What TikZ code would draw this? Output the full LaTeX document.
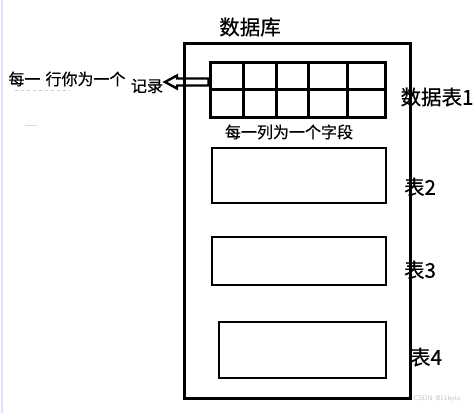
\documentclass[tikz,border=0pt]{standalone}
\usepackage{fontspec}
\newfontfamily\cjk[FakeBold=0.5]{Noto Sans CJK SC}
\usetikzlibrary{arrows.meta, positioning}

\begin{document}
\begin{tikzpicture}[
    x=1pt, y=-1pt,
    box/.style={rectangle, draw=black, line width=3pt, inner sep=0pt},
    tbl/.style={rectangle, draw=black, line width=2.6pt, inner sep=0pt},
    lbl/.style={font=\cjk\fontsize{20.5}{20.5}\selectfont, inner sep=0pt},
    note/.style={font=\cjk\fontsize{16}{16}\selectfont, inner sep=0pt},
    hollow/.style={draw=black, line width=2.4pt, line join=miter}
]
\useasboundingbox (0,0) rectangle (474,413);
\fill[white] (0,0) rectangle (474,413);
\draw[blue!12, line width=1.5pt] (2,0) -- (2,413);

% Database
\node[box, minimum width=226pt, minimum height=355pt] (db) at (297,220.5) {};
\node[lbl] (dbname) at (250,27) {数据库};

% Table 1 as a grid
\node[box, minimum width=175pt, minimum height=55pt] (t1) at (297.5,89.5) {};
\draw[line width=3pt] (t1.west) -- (t1.east);
\foreach \x in {243,276,308,347}
    \draw[line width=3pt] (\x,62) -- (\x,117);
\node[lbl] (t1name) at (437,97) {数据表1};
\node[note] (field) at (289,132) {每一列为一个字段};

% Other tables
\node[tbl, minimum width=174pt, minimum height=55pt] (t2) at (299,175.5) {};
\node[tbl, minimum width=174pt, minimum height=48pt] (t3) at (299,261) {};
\node[tbl, minimum width=167pt, minimum height=56pt] (t4) at (302.5,350) {};
\node[lbl] (t2name) at (420,187) {表2};
\node[lbl] (t3name) at (420,270) {表3};
\node[lbl] (t4name) at (426,357) {表4};

% Record label
\node[note] (row) at (67,79) {每一\hspace{5pt}行你为一个};
\node[note] (rec) at (147,86) {记录};
\draw[gray!40, dashed, line width=0.8pt] (15,90) -- (70,90);
\draw[gray!30, line width=0.8pt] (25,125) -- (37,125);

% Hollow arrow to the record label
\coordinate (tip) at (165,82);
\draw[hollow] (tip) -- ++(12,-6.5) -- ++(0,3) -- (t1.west |- 0,78.5)
    -- (t1.west |- 0,85.5) -- (177,85.5) -- ++(0,3) -- cycle;

% Watermark
\node[font=\sffamily\fontsize{7}{7}\selectfont, text=gray!45, inner sep=0pt] (wm) at (437,399) {CSDN @11byte};

\end{tikzpicture}
\end{document}
